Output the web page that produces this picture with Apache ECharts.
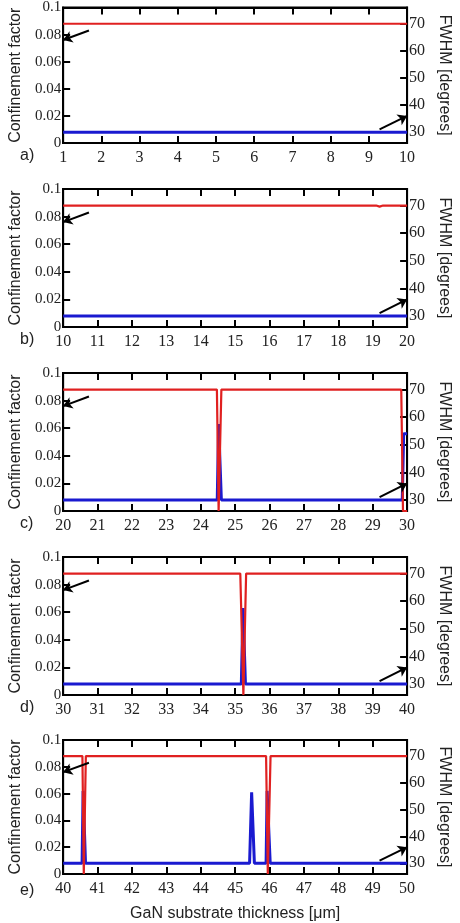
<!DOCTYPE html>
<html>
<head>
<meta charset="UTF-8">
<script src="https://cdn.jsdelivr.net/npm/echarts@6/dist/echarts.min.js"></script>
<style>
  body { margin: 0; background: #fff; }
  #main { width: 460px; height: 923px; }
</style>
</head>
<body>
<div id="main"></div>
<script>
// panel x ranges and letters
var panelLetters = ['a)', 'b)', 'c)', 'd)', 'e)'];
var panelMin = [1, 10, 20, 30, 40];
var panelMax = [10, 20, 30, 40, 50];

// confinement factor (red), [thickness, value]
var redA = [[1, 0.088], [10, 0.088]];
var redB = [[10, 0.088], [13.75, 0.088], [13.8, 0.0872], [13.85, 0.088], [19.1, 0.088], [19.2, 0.0872], [19.3, 0.088], [20, 0.088]];
var redC = [[20, 0.088], [24.47, 0.088], [24.52, 0], [24.56, 0], [24.6, 0.088], [29.83, 0.088], [29.88, 0], [30, 0]];
var redD = [[30, 0.088], [35.15, 0.088], [35.24, 0], [35.27, 0], [35.32, 0.088], [40, 0.088]];
var redE = [[40, 0.088], [40.56, 0.088], [40.6, 0], [40.62, 0], [40.66, 0.088], [45.45, 0.088], [45.5, 0.0868], [45.55, 0.088],
            [45.9, 0.088], [45.95, 0], [45.98, 0], [46.03, 0.088], [50, 0.088]];

// FWHM (blue), [thickness, degrees]
var blueA = [[1, 30], [10, 30]];
var blueB = [[10, 30], [20, 30]];
var blueC = [[20, 30], [24.48, 30], [24.52, 57.5], [24.55, 57.5], [24.6, 30], [29.86, 30], [29.9, 54], [30, 54]];
var blueD = [[30, 30], [35.18, 30], [35.23, 57.5], [35.26, 57.5], [35.3, 30], [40, 30]];
var blueE = [[40, 30], [40.55, 30], [40.58, 57], [40.62, 57], [40.65, 30], [45.42, 30], [45.48, 56.5], [45.52, 56.5], [45.56, 30],
             [45.9, 30], [45.93, 57], [45.98, 57], [46.02, 30], [50, 30]];

var reds = [redA, redB, redC, redD, redE];
var blues = [blueA, blueB, blueC, blueD, blueE];

var rightTicks = [30, 40, 50, 60, 70];

var serif = '"Liberation Serif", "DejaVu Serif", serif';
var sans = '"Liberation Sans", Arial, sans-serif';

var tops = [5, 189, 373, 557, 740];
var plotH = 138;

var option = { animation: false, grid: [], xAxis: [], yAxis: [], series: [], graphic: [] };

for (var i = 0; i < 5; i++) {
    option.grid.push({ left: 49, right: 42, top: tops[i], height: plotH, show: true,
        borderColor: '#000', borderWidth: 2, backgroundColor: '#fff' });

    // bottom axis
    option.xAxis.push({ type: 'value', gridIndex: i, min: panelMin[i], max: panelMax[i], interval: 1,
        axisLine: { lineStyle: { color: '#000', width: 2 } },
        axisTick: { inside: true, length: 7, lineStyle: { color: '#000', width: 2 } },
        axisLabel: { color: '#222', fontFamily: serif, fontSize: 16, margin: 7 },
        splitLine: { show: false },
        name: i == 4 ? 'GaN substrate thickness [μm]' : '', nameLocation: 'middle', nameGap: 32,
        nameTextStyle: { fontFamily: sans, fontSize: 16, color: '#222' } });
    // top axis, ticks only
    option.xAxis.push({ type: 'value', gridIndex: i, position: 'top', min: panelMin[i], max: panelMax[i], interval: 1,
        axisLine: { lineStyle: { color: '#000', width: 2 } },
        axisTick: { inside: true, length: 7, lineStyle: { color: '#000', width: 2 } },
        axisLabel: { show: false }, splitLine: { show: false } });

    option.yAxis.push({ type: 'value', gridIndex: i, min: 0, max: 0.1, interval: 0.02,
        axisLine: { lineStyle: { color: '#000', width: 2 } },
        axisTick: { inside: true, length: 7, lineStyle: { color: '#000', width: 2 } },
        axisLabel: { color: '#222', fontFamily: serif, fontSize: 15, margin: 2 },
        splitLine: { show: false },
        name: 'Confinement factor', nameLocation: 'middle', nameGap: 37, nameRotate: 90,
        nameTextStyle: { fontFamily: sans, fontSize: 16, color: '#222' } });
    option.yAxis.push({ type: 'value', gridIndex: i, position: 'right', min: 26, max: 76,
        axisLine: { lineStyle: { color: '#000', width: 2 } },
        axisTick: { inside: true, length: 7, customValues: rightTicks, lineStyle: { color: '#000', width: 2 } },
        axisLabel: { color: '#222', fontFamily: serif, fontSize: 16, margin: 2, customValues: rightTicks },
        splitLine: { show: false },
        name: 'FWHM [degrees]', nameLocation: 'middle', nameGap: 27, nameRotate: -90,
        nameTextStyle: { fontFamily: sans, fontSize: 16, color: '#222' } });

    var x0 = panelMin[i], span = panelMax[i] - panelMin[i];
    option.series.push({ type: 'line', xAxisIndex: 2 * i, yAxisIndex: 2 * i, data: reds[i], showSymbol: false,
        lineStyle: { color: '#e02020', width: 2.2 }, z: 3,
        markLine: { silent: true, symbol: ['none', 'arrow'], symbolSize: 9, label: { show: false },
            lineStyle: { color: '#000', width: 2, type: 'solid' },
            data: [[{ coord: [x0 + span * 0.075, 0.083] }, { coord: [x0, 0.076] }]] } });
    option.series.push({ type: 'line', xAxisIndex: 2 * i, yAxisIndex: 2 * i + 1, data: blues[i], showSymbol: false,
        lineStyle: { color: '#1a1ad0', width: 3 }, z: 2,
        markLine: { silent: true, symbol: ['none', 'arrow'], symbolSize: 9, label: { show: false },
            lineStyle: { color: '#000', width: 2, type: 'solid' },
            data: [[{ coord: [x0 + span * 0.92, 31] }, { coord: [panelMax[i], 36] }]] } });

    option.graphic.push({ type: 'text', left: 20, top: tops[i] + plotH + 5,
        style: { text: panelLetters[i], font: '16px ' + sans, fill: '#222' } });
}

var chart = echarts.init(document.getElementById('main'));
chart.setOption(option);
</script>
</body>
</html>
